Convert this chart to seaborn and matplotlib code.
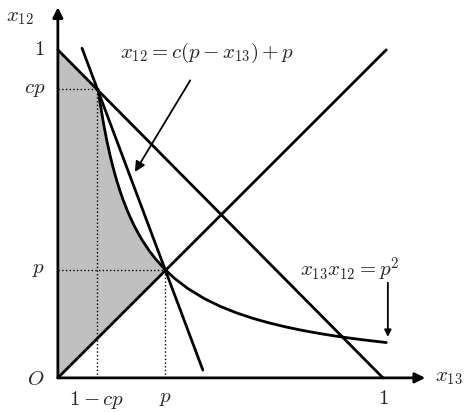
import numpy as np
import pandas as pd
import matplotlib
matplotlib.use("Agg")
import matplotlib.pyplot as plt
import seaborn as sns

p = 0.33
cp = 0.88
c = 2.64
hyper_x = [0.1238, 0.13, 0.14, 0.15, 0.16, 0.17, 0.18, 0.19, 0.2, 0.215, 0.23, 0.245, 0.26,
           0.28, 0.3, 0.33, 0.36, 0.4, 0.45, 0.5, 0.55, 0.6, 0.65, 0.7, 0.75, 0.8, 0.85,
           0.9, 0.95, 1.01]

sns.set_style("white")
plt.rcParams["mathtext.fontset"] = "cm"
plt.rcParams["font.family"] = ["DejaVu Serif"]
fig = plt.figure(figsize=(4.74, 4.12), dpi=100)
ax = fig.add_axes([0, 0, 1, 1])
ax.set_xlim(-0.178, 1.28)
ax.set_ylim(-0.104, 1.152)
ax.axis("off")

hx = np.array(hyper_x)
hy = p**2 / hx
sel = hx <= p
px = [0, 0] + list(hx[sel]) + [0]
py = [0, 1] + list(hy[sel]) + [0]
ax.fill(px, py, color="#c0c0c0", zorder=0, lw=0)

lw = 2
sns.lineplot(x=hx, y=hy, color="black", lw=lw, ax=ax, sort=False)
sns.lineplot(x=[0, 1], y=[1, 0], color="black", lw=lw, ax=ax)
sns.lineplot(x=[0, 1.01], y=[0, 1.0], color="black", lw=lw, ax=ax)
ytop, ybot = 1.005, 0.024
sns.lineplot(x=[p - (ytop - p) / c, p + (p - ybot) / c], y=[ytop, ybot], color="black", lw=lw, ax=ax)

dot = dict(color="black", lw=1, ls=":")
ax.plot([1 - cp, 1 - cp], [0, cp], **dot)
ax.plot([0, 1 - cp], [cp, cp], **dot)
ax.plot([p, p], [0, p], **dot)
ax.plot([0, p], [p, p], **dot)

ax.annotate("", xy=(1.13, 0), xytext=(0, 0), arrowprops=dict(arrowstyle="-|>", lw=2, color="black", mutation_scale=15, shrinkA=0, shrinkB=0))
ax.annotate("", xy=(0, 1.13), xytext=(0, 0), arrowprops=dict(arrowstyle="-|>", lw=2, color="black", mutation_scale=15, shrinkA=0, shrinkB=0))

fs = 15
ax.text(1.16, 0, r"$x_{13}$", fontsize=fs, va="center", ha="left")
ax.text(-0.16, 1.1, r"$x_{12}$", fontsize=fs, va="center", ha="left")
ax.text(-0.04, -0.005, r"$O$", fontsize=fs, va="center", ha="right")
ax.text(-0.04, 1.0, r"$1$", fontsize=fs, va="center", ha="right")
ax.text(-0.04, cp, r"$cp$", fontsize=fs, va="center", ha="right")
ax.text(-0.04, p, r"$p$", fontsize=fs, va="center", ha="right")
ax.text(1 - cp, -0.035, r"$1-cp$", fontsize=fs, va="top", ha="center")
ax.text(p, -0.035, r"$p$", fontsize=fs, va="top", ha="center")
ax.text(1.0, -0.035, r"$1$", fontsize=fs, va="top", ha="center")

ax.annotate(r"$x_{12}=c(p-x_{13})+p$", xy=(0.237, 0.628), xytext=(0.19, 0.99), fontsize=fs, va="center", ha="left",
            arrowprops=dict(arrowstyle="-|>", lw=1.3, color="black", shrinkA=10, shrinkB=0))
ax.annotate(r"$x_{13}x_{12}=p^2$", xy=(1.015, 0.125), xytext=(0.745, 0.33), fontsize=fs, va="center", ha="left")
ax.annotate("", xy=(1.015, 0.125), xytext=(1.015, 0.29),
            arrowprops=dict(arrowstyle="-|>", lw=1.3, color="black", shrinkA=0, shrinkB=0))

fig.savefig("out.png", dpi=100)
